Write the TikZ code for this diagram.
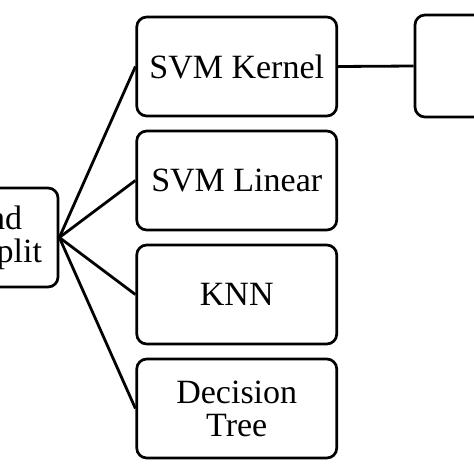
\documentclass[tikz,border=0pt]{standalone}
\usepackage{fontspec}
\setmainfont{Liberation Serif}
\begin{document}
\begin{tikzpicture}[x=1pt, y=-1pt, line width=2.8pt,
  box/.style={shape=rectangle, draw=black, line width=2.7pt, rounded corners=10pt,
    minimum width=200pt, minimum height=99pt, inner sep=0pt,
    font=\fontsize{34}{33}\selectfont, align=center}]
%%%%%%%%%%%%%%%%%%%%%%%%%%%%%%%%%%%%%%%%%%% HELP LINES
%\draw[help lines] (0,0) grid +(474,474);
\useasboundingbox (0,0) rectangle (474,474);
\clip (0,0) rectangle (474,474);

%%%%%%%%%%%%%%%%%%%%%%%%%%%%%%%%%%%%%%%%%%% elements
\node[box, minimum width=160pt, text width=128pt, align=right](prep) at (-22,237.5){and\rule{20pt}{0pt}\\Split};

\node[box](kernel) at (236.75,66.5){SVM Kernel};
\node[box](linear) at (236.75,180.5){SVM Linear};
\node[box](knn) at (236.75,294.5){KNN};
\node[box](tree) at (236.75,408.5){Decision\\Tree};

\node[box, minimum width=120pt, minimum height=102pt](next) at (475,66){};

%%%%% connectors
\draw (prep.east) -- (kernel.west);
\draw (prep.east) -- (linear.west);
\draw (prep.east) -- (knn.west);
\draw (prep.east) -- (tree.west);
\draw (kernel.east) -- (next.west);
\end{tikzpicture}
\end{document}
